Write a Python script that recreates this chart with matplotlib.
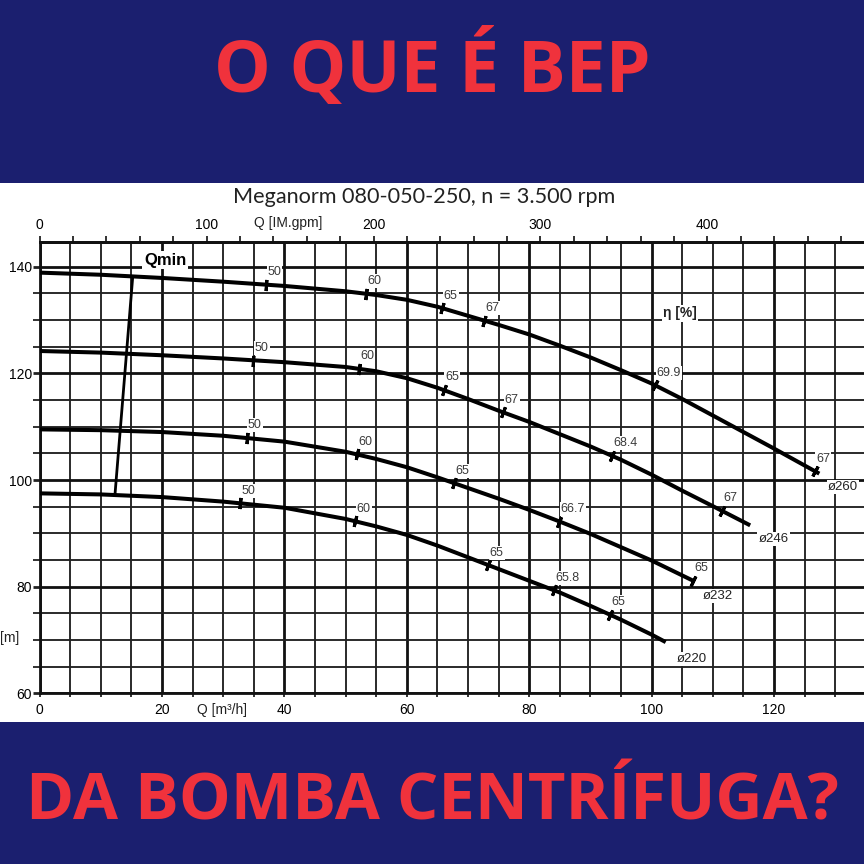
import numpy as np
import matplotlib
matplotlib.use("Agg")
import matplotlib.pyplot as plt
from matplotlib.patches import Rectangle
from matplotlib.ticker import MultipleLocator

NAVY = '#1b1f6f'
RED = '#f0323c'
GPM = 3.666  # IM.gpm per m3/h

# head curves, Q [m3/h] -> H [m], one per impeller diameter
q_260 = [0, 10, 20, 30, 40, 50, 55, 60, 65, 70, 75, 80, 85, 90, 95, 100, 105, 110, 115, 120, 127.4]
h_260 = [138.9, 138.5, 137.9, 137.2, 136.4, 135.4, 134.7, 133.8, 132.5, 130.8, 129.1, 127.3,
         125.2, 123.0, 120.6, 118.1, 115.2, 112.1, 109.0, 105.9, 101.2]

q_246 = [0, 10, 20, 30, 40, 50, 55, 60, 65, 70, 75, 80, 85, 90, 95, 100, 105, 110, 116.1]
h_246 = [124.2, 123.9, 123.4, 122.8, 122.1, 121.2, 120.4, 119.1, 117.3, 115.2, 113.0, 110.9,
         108.6, 106.3, 103.8, 101.0, 98.0, 95.1, 91.5]

q_232 = [0, 10, 20, 30, 40, 50, 55, 60, 65, 70, 75, 80, 85, 90, 95, 100, 106.8]
h_232 = [109.5, 109.35, 109.0, 108.3, 107.2, 105.3, 103.95, 102.4, 100.5, 98.5, 96.5, 94.4,
         92.2, 89.9, 87.4, 84.9, 81.1]

q_220 = [0, 10, 20, 30, 40, 50, 55, 60, 65, 70, 75, 80, 85, 90, 95, 100, 102.3]
h_220 = [97.5, 97.3, 96.8, 95.95, 94.8, 92.7, 91.3, 89.7, 87.7, 85.5, 83.3, 81.1, 78.9, 76.4,
         73.8, 71.0, 69.6]

# efficiency points on each curve
eq_260 = [37.0, 53.3, 65.8, 72.6, 100.6, 126.7]
eh_260 = [136.6, 134.9, 132.2, 129.9, 117.75, 101.6]
el_260 = ['50', '60', '65', '67', '69.9', '67']

eq_246 = [34.9, 52.1, 66.0, 75.75, 93.5, 111.5]
eh_246 = [122.4, 120.9, 116.9, 112.7, 104.55, 94.2]
el_246 = ['50', '60', '65', '67', '68.4', '67']

eq_232 = [33.8, 51.9, 67.7, 84.9, 106.8]
eh_232 = [107.9, 104.8, 99.4, 92.2, 81.1]
el_232 = ['50', '60', '65', '66.7', '65']

eq_220 = [32.8, 51.6, 73.3, 84.1, 93.2]
eh_220 = [95.6, 92.25, 84.05, 79.3, 74.75]
el_220 = ['50', '60', '65', '65.8', '65']

diam_names = ['ø260', 'ø246', 'ø232', 'ø220']
diam_q = [131.3, 119.9, 110.8, 106.6]
diam_h = [98.75, 88.9, 78.2, 66.4]

qmin_q = [15.2, 12.3]
qmin_h = [138.1, 97.25]

curves = [
    (q_260, h_260, eq_260, eh_260, el_260),
    (q_246, h_246, eq_246, eh_246, el_246),
    (q_232, h_232, eq_232, eh_232, el_232),
    (q_220, h_220, eq_220, eh_220, el_220),
]

plt.rcParams['font.family'] = ['Liberation Sans', 'DejaVu Sans']

fig = plt.figure(figsize=(8.64, 8.64), dpi=100, facecolor=NAVY)
fig.patches.append(Rectangle((0, 1 - 722 / 864), 1, (722 - 183) / 864,
                             transform=fig.transFigure, facecolor='white',
                             edgecolor='none', zorder=-10))

ax = fig.add_axes([39.7 / 864, 1 - 693.3 / 864, 1 - 39.7 / 864, (693.3 - 241.7) / 864])
ax.set_xlim(0, 134.7)
ax.set_ylim(60, 144.7)
ax.set_facecolor('white')

ax.xaxis.set_major_locator(MultipleLocator(20))
ax.xaxis.set_minor_locator(MultipleLocator(5))
ax.yaxis.set_major_locator(MultipleLocator(20))
ax.yaxis.set_minor_locator(MultipleLocator(5))
ax.grid(which='major', color='#111111', lw=2.0)
ax.grid(which='minor', color='#222222', lw=1.35)
ax.set_axisbelow(True)

ax.tick_params(axis='x', which='both', direction='out', length=3, width=1.3,
               color='#222222', labelsize=10, pad=4)
ax.tick_params(axis='y', which='both', direction='out', length=5, width=1.3,
               color='#222222', labelsize=10, pad=0.5)
ax.tick_params(axis='y', which='major', width=2.0)
for s in ['left', 'top', 'bottom']:
    ax.spines[s].set_linewidth(2.0)
    ax.spines[s].set_color('#111111')
ax.spines['right'].set_visible(False)

sec = ax.secondary_xaxis('top', functions=(lambda q: q * GPM, lambda g: g / GPM))
sec.set_xticks(np.arange(0, 501, 100))
sec.xaxis.set_minor_locator(MultipleLocator(20))
sec.tick_params(which='both', direction='out', length=4, width=1.3,
                color='#222222', labelsize=10, pad=3)
sec.spines['top'].set_linewidth(2.0)

# curves
for qs, hs, eq, eh, el in curves:
    ax.plot(qs, hs, color='black', lw=2.9, solid_capstyle='butt',
            solid_joinstyle='round', zorder=5)

fig.canvas.draw()
for qs, hs, eq, eh, el in curves:
    pts = ax.transData.transform(np.column_stack([qs, hs]))
    for q0, h0, lab in zip(eq, eh, el):
        i = int(np.searchsorted(qs, q0))
        i = min(max(i, 1), len(qs) - 1)
        dx, dy = pts[i] - pts[i - 1]
        ang = np.degrees(np.arctan2(dy, dx))
        ax.plot([q0], [h0], marker=(2, 2, ang), ms=8, mew=2.2,
                color='black', zorder=6)
        ax.annotate(lab, (q0, h0), xytext=(1, 9), textcoords='offset points',
                    ha='left', va='center', fontsize=9, color='#3a3a3a',
                    zorder=4,
                    bbox=dict(boxstyle='square,pad=0.08', fc='white', ec='none'))

ax.plot(qmin_q, qmin_h, color='black', lw=2.0, zorder=5)
ax.text(20.5, 141.25, 'Qmin', fontsize=12, fontweight='bold', ha='center',
        va='center', zorder=4,
        bbox=dict(boxstyle='square,pad=0.1', fc='white', ec='none'))
ax.text(104.6, 131.25, 'η [%]', fontsize=10, fontweight='bold', ha='center',
        va='center', color='#222222', zorder=4,
        bbox=dict(boxstyle='square,pad=0.1', fc='white', ec='none'))

for name, q, h in zip(diam_names, diam_q, diam_h):
    ax.text(q, h, name, fontsize=9.5, ha='center', va='center', color='#222222',
            zorder=4, bbox=dict(boxstyle='square,pad=0.08', fc='white', ec='none'))

fig.text(222 / 864, 1 - 710 / 864, 'Q [m³/h]', fontsize=10, ha='center',
         va='center', color='#222222')
fig.text(288 / 864, 1 - 223 / 864, 'Q [IM.gpm]', fontsize=10, ha='center',
         va='center', color='#222222')
fig.text(0.0, 1 - 638 / 864, '[m]', fontsize=10, ha='left', va='center',
         color='#222222')

fig.text(424.5 / 864, 1 - 197 / 864, 'Meganorm 080-050-250, n = 3.500 rpm',
         fontsize=15.6, family='Lato', ha='center', va='center', color='#222222')

fig.text(432.5 / 864, 1 - 91.5 / 864, 'O QUE É BEP', fontsize=51.5,
         family='Open Sans', fontweight='bold', color=RED, ha='center',
         va='baseline')
fig.text(432 / 864, 1 - 820 / 864, 'DA BOMBA CENTRÍFUGA?', fontsize=47,
         family='Open Sans', fontweight='bold', color=RED, ha='center',
         va='baseline')

fig.savefig('out.png', dpi=100, facecolor=NAVY)
